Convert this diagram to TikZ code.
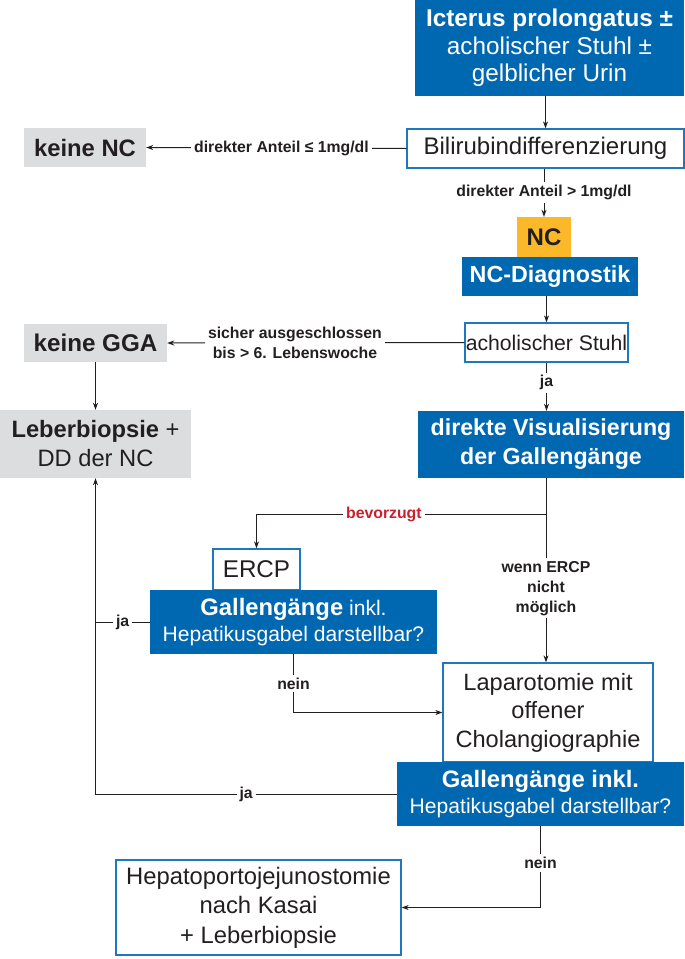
\documentclass[tikz,border=0pt]{standalone}
\usepackage{fontspec}
\setmainfont{Liberation Sans}
\usetikzlibrary{arrows.meta,calc}
\definecolor{dblue}{RGB}{0,103,177}
\definecolor{bblue}{RGB}{30,120,190}
\definecolor{lgrey}{RGB}{220,221,223}
\definecolor{ncorange}{RGB}{251,184,41}
\definecolor{redtxt}{RGB}{200,32,47}
\definecolor{txt}{RGB}{35,31,32}
\begin{document}
\begin{tikzpicture}[x=1pt,y=-1pt,
  bluebox/.style={rectangle,fill=dblue,text=white,align=center,inner sep=0pt},
  whitebox/.style={rectangle,fill=white,draw=bblue,line width=1.3pt,text=txt,align=center,inner sep=0pt},
  greybox/.style={rectangle,fill=lgrey,text=txt,align=center,inner sep=0pt},
  lbl/.style={fill=white,text=txt,font=\fontsize{15.8}{20}\selectfont\bfseries,align=center,inner sep=3pt},
  conn/.style={draw=txt,line width=1pt},
  arr/.style={conn,-{Stealth[length=7pt,width=5pt]}},
  big/.style={font=\fontsize{23.8}{28.5}\selectfont}]
\useasboundingbox (0,0) rectangle (685,959);

\node[bluebox,minimum width=269pt,minimum height=96pt,font=\fontsize{24.3}{27.5}\selectfont] (ict) at (549.5,48)
  {\textbf{Icterus prolongatus ±}\\acholischer Stuhl ±\\gelblicher Urin};
\node[whitebox,minimum width=277pt,minimum height=39pt,font=\fontsize{24}{28}\selectfont] (bili) at (545.5,148.5) {Bilirubindifferenzierung};
\node[greybox,minimum width=122pt,minimum height=39pt,font=\fontsize{23.8}{28}\selectfont\bfseries] (knc) at (85,147.5) {keine NC};
\node[rectangle,fill=ncorange,minimum width=54pt,minimum height=40pt,inner sep=0pt,text=txt,font=\fontsize{24}{26}\selectfont\bfseries] (nc) at (544,237) {NC};
\node[bluebox,minimum width=176pt,minimum height=39pt,font=\fontsize{23.3}{26}\selectfont\bfseries] (ncd) at (550,276.5) {NC-Diagnostik};
\node[whitebox,minimum width=163pt,minimum height=39pt,font=\fontsize{21.2}{24}\selectfont] (stuhl) at (546.5,342.5) {acholischer Stuhl};
\node[greybox,minimum width=143pt,minimum height=38pt,font=\fontsize{24.2}{28}\selectfont\bfseries] (kgga) at (95.5,343) {keine GGA};
\node[greybox,minimum width=191pt,minimum height=68pt,font=\fontsize{23.7}{29}\selectfont] (leber) at (95.5,444) {\textbf{Leberbiopsie} +\\DD der NC};
\node[bluebox,minimum width=266pt,minimum height=67pt,font=\fontsize{23.2}{29}\selectfont\bfseries] (dv) at (551,444.5) {direkte Visualisierung\\der Gallengänge};
\node[whitebox,minimum width=87pt,minimum height=41pt,font=\fontsize{24.2}{28}\selectfont] (ercp) at (256.5,569.5) {ERCP};
\node[bluebox,minimum width=287pt,minimum height=64pt,font=\fontsize{21.1}{26}\selectfont] (g1) at (293.5,622)
  {{\fontsize{23.8}{26}\selectfont\bfseries Gallengänge} {\fontsize{21.1}{26}\selectfont inkl.}\\Hepatikusgabel darstellbar?};
\node[whitebox,minimum width=210pt,minimum height=99pt,font=\fontsize{23.6}{28.5}\selectfont] (lap) at (548,712.5) {Laparotomie mit\\offener\\Cholangiographie};
\node[bluebox,minimum width=287pt,minimum height=64pt,font=\fontsize{21.1}{26}\selectfont] (g2) at (540.5,794)
  {{\fontsize{23.8}{26}\selectfont\bfseries Gallengänge inkl.}\\Hepatikusgabel darstellbar?};
\node[whitebox,minimum width=285pt,minimum height=95pt,font=\fontsize{23.8}{29.5}\selectfont] (hep) at (258.5,907.5) {Hepatoportojejunostomie\\nach Kasai\\+ Leberbiopsie};

\coordinate (j1) at (546,514);

\draw[arr] (bili.north |- ict.south) -- (bili.north);
\draw[arr] (bili.west) -- node[lbl,pos=0.48] {direkter Anteil ≤ 1mg/dl} (knc.east);
\draw[arr] (nc.north |- bili.south) -- node[lbl] {direkter Anteil > 1mg/dl} (nc.north);
\draw[arr] (stuhl.north |- ncd.south) -- (stuhl.north);
\draw[arr] (stuhl.west) -- node[lbl,pos=0.57] {sicher ausgeschlossen\\bis > 6. Lebenswoche} (kgga.east);
\draw[arr] (kgga.south) -- (leber.north);
\draw[arr] (stuhl.south) -- node[lbl,pos=0.42] {ja} (stuhl.south |- dv.north);
\draw[arr] (dv.south -| j1) -- (j1) -- node[lbl,pos=0.56,text=redtxt] {bevorzugt} (ercp.north |- j1) -- (ercp.north);
\draw[arr] (j1) -- node[lbl] {wenn ERCP\\nicht\\möglich} (j1 |- lap.north);
\draw[conn] (g1.west) -- node[lbl] {ja} (g1.west -| leber.south);
\draw[arr] (g2.west) -- node[lbl] {ja} (g2.west -| leber.south) -- (leber.south);
\draw[arr] (g1.south) -- node[lbl] {nein} (g1.south |- lap.west) -- (lap.west);
\draw[arr] (g2.south) -- node[lbl,pos=0.45] {nein} (g2.south |- hep.east) -- (hep.east);
\end{tikzpicture}
\end{document}
